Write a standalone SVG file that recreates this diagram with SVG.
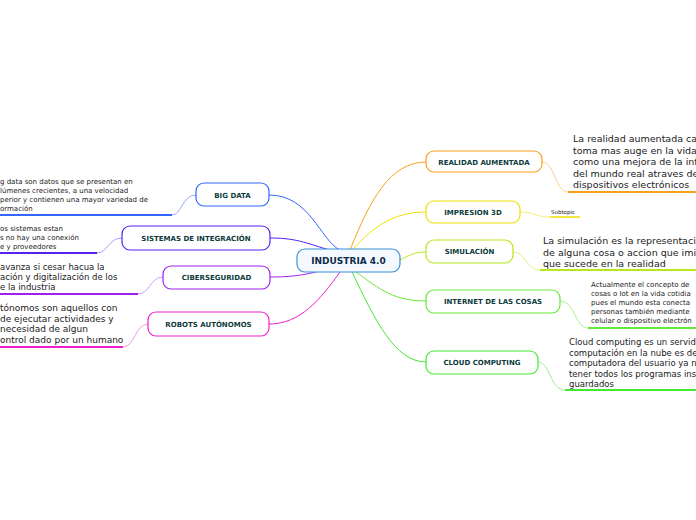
<svg xmlns="http://www.w3.org/2000/svg" width="696" height="520" viewBox="0 0 696 520">
<style>
.n{font-family:"DejaVu Sans",Verdana,sans-serif;font-weight:bold;font-size:7px;fill:#0d3b3b;text-anchor:middle}
.t{font-family:"DejaVu Sans",Verdana,sans-serif;fill:#222}
.c{fill:none;stroke-width:1}
rect{fill:#fff;stroke-width:1.2}
</style>
<rect x="0" y="0" width="696" height="520" style="fill:#fff;stroke:none"/>
<g id="connectors">
<path class="c" stroke="#f7a21b" d="M350,250 C370,200 390,162 426,162"/>
<path class="c" stroke="#f0e100" d="M352,250 C375,225 395,212 426,212"/>
<path class="c" stroke="#b8e81a" d="M400,260 C410,255 415,252 426,252"/>
<path class="c" stroke="#66e83a" d="M355,271 C380,290 395,301 426,301"/>
<path class="c" stroke="#44e832" d="M352,272 C375,320 395,362 426,362"/>
<path class="c" stroke="#3366ff" d="M269,195 C310,195 320,240 340,250"/>
<path class="c" stroke="#5522ee" d="M270,238 C300,238 310,245 330,250"/>
<path class="c" stroke="#a020f0" d="M270,277 C300,277 310,273 320,271"/>
<path class="c" stroke="#ee22cc" d="M269,324 C300,324 320,300 340,272"/>
<path class="c" stroke="#ffcc88" d="M542,162 C555,162 555,192 568,192"/>
<path stroke="#f7a21b" stroke-width="2" d="M568,192 H696"/>
<path class="c" stroke="#f6ef7a" d="M520,212 C535,212 535,217 550,217"/>
<path stroke="#f0e100" stroke-width="1.5" d="M550,217 H580"/>
<path class="c" stroke="#dff08a" d="M513,252 C526,252 526,270 540,270"/>
<path stroke="#b8e81a" stroke-width="2" d="M540,270 H696"/>
<path class="c" stroke="#a8f090" d="M560,301 C575,301 575,328 588,328"/>
<path stroke="#66e83a" stroke-width="2" d="M588,328 H696"/>
<path class="c" stroke="#98f090" d="M538,362 C550,362 550,390 565,390"/>
<path stroke="#44e832" stroke-width="2" d="M565,390 H696"/>
<path class="c" stroke="#99aaff" d="M196,195 C182,195 182,215 172,215"/>
<path stroke="#3366ff" stroke-width="2" d="M0,215 H172"/>
<path class="c" stroke="#aa99ff" d="M122,238 C108,238 108,253 97,253"/>
<path stroke="#5522ee" stroke-width="2" d="M0,253 H97"/>
<path class="c" stroke="#d399ff" d="M163,277 C150,277 150,294 138,294"/>
<path stroke="#a020f0" stroke-width="2" d="M0,294 H138"/>
<path class="c" stroke="#f599e8" d="M148,324 C135,324 135,347 123,347"/>
<path stroke="#ee22cc" stroke-width="2" d="M0,347 H123"/>
</g>
<g id="center"><rect x="297" y="249" width="103" height="23" rx="8" style="stroke:#3b8fd6;fill:#f4f9ff"/><text class="n" x="348.5" y="264" style="font-size:9px;fill:#0d2b4b">INDUSTRIA 4.0</text></g>
<g id="realidad"><rect x="426" y="151" width="116" height="21" rx="8" stroke="#f7a21b"/><text class="n" x="484" y="164.5">REALIDAD AUMENTADA</text></g>
<g id="impresion"><rect x="426" y="201" width="94" height="22" rx="8" stroke="#f0e100"/><text class="n" x="473" y="214.5">IMPRESION 3D</text></g>
<g id="simulacion"><rect x="426" y="240" width="87" height="23" rx="8" stroke="#b8e81a"/><text class="n" x="469.5" y="254">SIMULACIÓN</text></g>
<g id="internet"><rect x="426" y="290" width="134" height="23" rx="8" stroke="#66e83a"/><text class="n" x="493" y="304">INTERNET DE LAS COSAS</text></g>
<g id="cloud"><rect x="426" y="351" width="112" height="23" rx="8" stroke="#44e832"/><text class="n" x="482" y="365">CLOUD COMPUTING</text></g>
<g id="bigdata"><rect x="196" y="183" width="73" height="23" rx="8" stroke="#3366ff"/><text class="n" x="232.5" y="197.5">BIG DATA</text></g>
<g id="sistemas"><rect x="122" y="226" width="148" height="24" rx="8" stroke="#5522ee"/><text class="n" x="196" y="241">SISTEMAS DE INTEGRACIÓN</text></g>
<g id="ciber"><rect x="163" y="266" width="107" height="23" rx="8" stroke="#a020f0"/><text class="n" x="216.5" y="280">CIBERSEGURIDAD</text></g>
<g id="robots"><rect x="148" y="312" width="121" height="24" rx="8" stroke="#ee22cc"/><text class="n" x="208.5" y="327">ROBOTS AUTÓNOMOS</text></g>
<g id="texts">
<text class="t" style="font-size:9.5px"><tspan x="573" y="142">La realidad aumentada ca</tspan><tspan x="573" y="153.5">toma mas auge en la vida</tspan><tspan x="573" y="165">como una mejora de la inf</tspan><tspan x="573" y="176.5">del mundo real atraves de</tspan><tspan x="573" y="188">dispositivos electrónicos</tspan></text>
<text class="t" x="551" y="214" style="font-size:5.5px">Subtopic</text>
<text class="t" style="font-size:9.5px"><tspan x="543" y="244">La simulación es la representaci</tspan><tspan x="543" y="255.5">de alguna cosa o accion que imi</tspan><tspan x="543" y="267">que sucede en la realidad</tspan></text>
<text class="t" style="font-size:7px"><tspan x="591" y="287">Actualmente el concepto de</tspan><tspan x="591" y="296">cosas o Iot en la vida cotidia</tspan><tspan x="591" y="305">pues el mundo esta conecta</tspan><tspan x="591" y="314">personas también mediante</tspan><tspan x="591" y="323">celular o dispositivo electrón</tspan></text>
<text class="t" style="font-size:8.5px"><tspan x="569" y="345">Cloud computing es un servid</tspan><tspan x="569" y="355.5">computación en la nube es de</tspan><tspan x="569" y="366">computadora del usuario ya n</tspan><tspan x="569" y="376.5">tener todos los programas ins</tspan><tspan x="569" y="387">guardados</tspan></text>
<text class="t" style="font-size:7px"><tspan x="0" y="184">g data son datos que se presentan en</tspan><tspan x="0" y="193">lúmenes crecientes, a una velocidad</tspan><tspan x="0" y="202">perior y contienen una mayor variedad de</tspan><tspan x="0" y="211">ormación</tspan></text>
<text class="t" style="font-size:7px"><tspan x="0" y="231">os sistemas estan</tspan><tspan x="0" y="240">s no hay una conexión</tspan><tspan x="0" y="249">e y proveedores</tspan></text>
<text class="t" style="font-size:8.5px"><tspan x="0" y="270">avanza si cesar hacua la</tspan><tspan x="0" y="280">ación y digitalización de los</tspan><tspan x="0" y="290">e la industria</tspan></text>
<text class="t" style="font-size:9px"><tspan x="0" y="311">tónomos son aquellos con</tspan><tspan x="0" y="321.5">de ejecutar actividades y</tspan><tspan x="0" y="332">necesidad de algun</tspan><tspan x="0" y="342.5">ontrol dado por un humano</tspan></text>
</g>
</svg>
